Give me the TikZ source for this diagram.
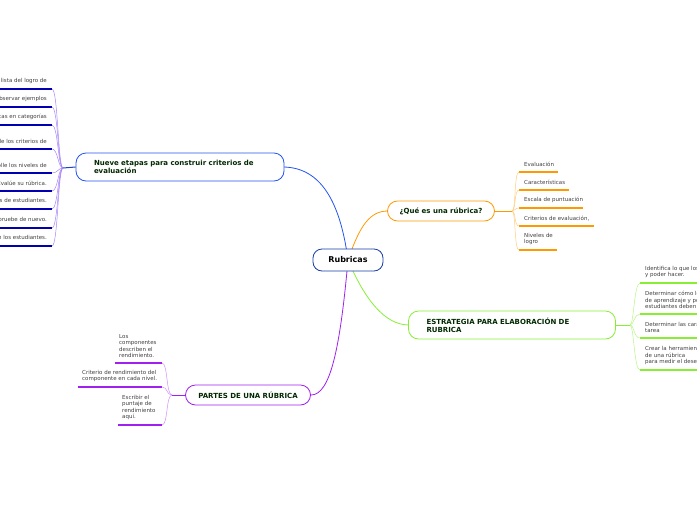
\documentclass[tikz,border=0pt]{standalone}
\usepackage{fontspec}
\setmainfont{DejaVu Sans}
\begin{document}
\begin{tikzpicture}[x=1pt,y=-1pt,
 box/.style={draw,rounded corners=10pt,line width=0.8pt,fill=white,font=\fontsize{7}{8}\selectfont\bfseries,text=black!60!green!40!black,align=left,inner xsep=9pt},
 it/.style={font=\fontsize{5.5}{6.5}\selectfont,text=black!75,align=left,inner sep=1pt}]
\useasboundingbox (0,0) rectangle (697,520);
\clip (0,0) rectangle (697,520);
\definecolor{cb}{HTML}{2255EE}\definecolor{co}{HTML}{FF9900}\definecolor{cg}{HTML}{88EE33}\definecolor{cp}{HTML}{A020F0}
\coordinate (c) at (348,260);
\draw[cb,line width=0.8pt] (c) .. controls (340,200) and (320,168) .. (284,167);
\draw[co,line width=0.8pt] (c) .. controls (360,225) and (370,211) .. (388,211);
\draw[cg,line width=0.8pt] (c) .. controls (365,300) and (385,325) .. (409,325);
\draw[cp,line width=0.8pt] (c) .. controls (340,350) and (330,395) .. (311,395);
\node[box,draw=cb,text width=172pt,inner xsep=18pt,minimum height=28pt] (nueve) at (180,167) {Nueve etapas para construir criterios de evaluación};
\node[box,draw=co,minimum width=107pt,minimum height=20pt] (que) at (441,211) {¿Qué es una rúbrica?};
\node[box,draw=cg,text width=171pt,inner xsep=18pt,minimum height=28pt] (est) at (512,325) {ESTRATEGIA PARA ELABORACIÓN DE RUBRICA};
\node[box,draw=cp,minimum width=125pt,minimum height=20pt] (par) at (248,395) {PARTES DE UNA RÚBRICA};
\node[box,draw=cb!70!black,rounded corners=9pt,minimum width=70pt,minimum height=22pt,text=black,font=\fontsize{8}{9}\selectfont\bfseries] (rub) at (348,260) {Rubricas};
\coordinate (fl) at (63,168);
\draw[cb!80!black,line width=1pt] (nueve.west) -- (fl);
\foreach \y/\t in {89/{1. Reflexione: elabore una lista del logro de},107/{2. Observar ejemplos},125/{3. Agrupe y nombre las características en categorías},149/{4. Redacte la definición de los criterios de},173/{5. Desarrolle los niveles de},191/{6. Evalúe su rúbrica.},209/{7. Pruebe la rúbrica con los trabajos de estudiantes.},228/{8. Revise la rúbrica y pruebe de nuevo.},246/{9. Comparta la rúbrica con los estudiantes.}}{
 \draw[cb!40!cp!60!white,line width=0.5pt] (fl) .. controls (58,168) and (58,\y) .. (52,\y);
 \draw[blue!70!black,line width=1.2pt] (0,\y) -- (52,\y);
 \node[it,anchor=south east] at (48,\y-4) {\t};}
\coordinate (fq) at (512,211);
\draw[co,line width=1pt] (que.east) -- (fq);
\foreach \y/\w/\t in {172/558/{Evaluación},190/569/{Características},208/583/{Escala de puntuación},226/594/{Criterios de evaluación,},250/557/{Niveles de\\logro}}{
 \draw[co!50,line width=0.5pt] (fq) .. controls (516,211) and (514,\y) .. (519,\y);
 \draw[co,line width=1.2pt] (519,\y) -- (\w,\y);
 \node[it,anchor=south west] at (523,\y-4) {\t};}
\coordinate (fe) at (630,325);
\draw[cg,line width=1pt] (est.east) -- (fe);
\foreach \y/\t in {283/{Identifica lo que los estudiantes deben saber\\y poder hacer.},314/{Determinar cómo los estudiantes demuestran\\de aprendizaje y por qué deben\\estudiantes deben hacer},338/{Determinar las características de la\\tarea},370/{Crear la herramienta de evaluación\\de una rúbrica\\ para medir el desempeño}}{
 \draw[cg!60,line width=0.5pt] (fe) .. controls (634,325) and (634,\y) .. (640,\y);
 \draw[cg,line width=1.2pt] (640,\y) -- (697,\y);
 \node[it,anchor=south west] at (644,\y-4) {\t};}
\coordinate (fp) at (172,395);
\draw[cp,line width=1pt] (par.west) -- (fp);
\foreach \y/\x in {363/115,387/78,425/118}{
 \draw[cp!50,line width=0.5pt] (fp) .. controls (166,395) and (168,\y) .. (162,\y);
 \draw[cp,line width=1.2pt] (\x,\y) -- (162,\y);}
\node[it,anchor=south west] at (118,359) {Los\\componentes\\describen el\\rendimiento.};
\node[it,anchor=south west] at (81,383) {Criterio de rendimiento del\\componente en cada nivel.};
\node[it,anchor=south west] at (121,421) {Escribir el\\puntaje de\\rendimiento\\aquí.};
\end{tikzpicture}
\end{document}
